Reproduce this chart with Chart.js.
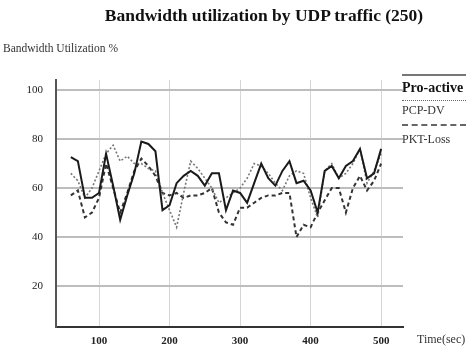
<!DOCTYPE html>
<html>
<head>
<meta charset="utf-8">
<script src="https://cdn.jsdelivr.net/npm/chart.js@4.4.1/dist/chart.umd.min.js"></script>
<style>
  html, body { margin: 0; padding: 0; background: #fff; }
  #wrap { position: relative; width: 474px; height: 364px; overflow: hidden; font-family: "Liberation Serif", "DejaVu Serif", serif; }
  canvas { position: absolute; left: 0; top: 0; }
  .t { position: absolute; white-space: nowrap; color: #111; }
  .ln { position: absolute; left: 402px; width: 64px; height: 0; }
</style>
</head>
<body>
<div id="wrap">
  <canvas id="c" width="474" height="364"></canvas>
  <div class="t" style="left:0;width:528px;top:5px;text-align:center;font-size:17.5px;font-weight:bold;">Bandwidth utilization by UDP traffic (250)</div>
  <div class="t" style="left:3px;top:42px;font-size:11.5px;color:#333;">Bandwidth Utilization %</div>
  <div class="t" style="left:417px;top:332px;font-size:12px;color:#333;">Time(sec)</div>
  <div class="ln" style="top:74px;border-top:2px solid #777;"></div>
  <div class="t" style="left:402px;top:80px;font-size:14px;font-weight:bold;">Pro-active</div>
  <div class="ln" style="top:100px;border-top:1.5px dotted #666;"></div>
  <div class="t" style="left:402px;top:103px;font-size:12px;color:#333;">PCP-DV</div>
  <div class="ln" style="top:124px;border-top:2px dashed #666;"></div>
  <div class="t" style="left:402px;top:132px;font-size:12px;color:#333;">PKT-Loss</div>
</div>
<script>
const times = [60,70,80,90,100,110,120,130,140,150,160,170,180,190,200,210,220,230,240,250,260,270,280,290,300,310,320,330,340,350,360,370,380,390,400,410,420,430,440,450,460,470,480,490,500];
const proActive = [72.6,71,56,56,58,74,61,47,57,66,79,78,75,51,53,62,65,67,65,61,66,66,51,59,58,54,62,70,64,61,67,71,62,63,59,50,67,69,64,69,71,76,64,66,76];
const pcpDV = [66,63,56,60,67,74,77.5,71,73,70,70,68,67,58,51,44,58,71,68,64,60,54,56,58,60,64,70,69,66,62,59,65,67,66,56,48,67,70,64,66,70,76,62,67,74];
const pktLoss = [57,59,48,50,56,70,60,50,58,67,72,69,65,58,57,58,56,57,57,58,60,50,46,45,52,52,54,56,57,57,58,58,40,45,44,50,55,60,60,50,60,65,59,63,70];
const xTicks = [100,200,300,400,500];
const yTicks = [20,40,60,80,100];

const pts = arr => arr.map((v, i) => ({ x: times[i], y: v }));

new Chart(document.getElementById('c'), {
  type: 'line',
  data: {
    datasets: [
      { label: 'Pro-active', data: pts(proActive), borderColor: '#1a1a1a', borderWidth: 2, pointRadius: 0, tension: 0, fill: false },
      { label: 'PCP-DV', data: pts(pcpDV), borderColor: '#777', borderWidth: 1.6, borderDash: [2, 2], pointRadius: 0, tension: 0, fill: false },
      { label: 'PKT-Loss', data: pts(pktLoss), borderColor: '#333', borderWidth: 2, borderDash: [4, 3], pointRadius: 0, tension: 0, fill: false }
    ]
  },
  options: {
    responsive: false,
    animation: false,
    layout: { padding: { top: 80, right: 71, left: 0, bottom: 0 } },
    plugins: { legend: { display: false }, title: { display: false }, tooltip: { enabled: false } },
    scales: {
      x: {
        type: 'linear', min: 39, max: 531,
        afterBuildTicks: s => { s.ticks = xTicks.map(v => ({ value: v })); },
        afterFit: s => { s.height = 37; },
        grid: { color: '#d6d6d6', lineWidth: 1, drawTicks: false },
        border: { display: true, color: '#333', width: 2 },
        ticks: { color: '#222', padding: 8, font: { family: 'Liberation Serif', size: 11, weight: 'bold' } }
      },
      y: {
        min: 3.3, max: 104.1,
        afterBuildTicks: s => { s.ticks = yTicks.map(v => ({ value: v })); },
        afterFit: s => { s.width = 56; },
        grid: { color: '#bdbdbd', lineWidth: 2, drawTicks: false },
        border: { display: true, color: '#555', width: 2 },
        ticks: { color: '#222', padding: 13, font: { family: 'Liberation Serif', size: 11 } }
      }
    }
  }
});
</script>
</body>
</html>
